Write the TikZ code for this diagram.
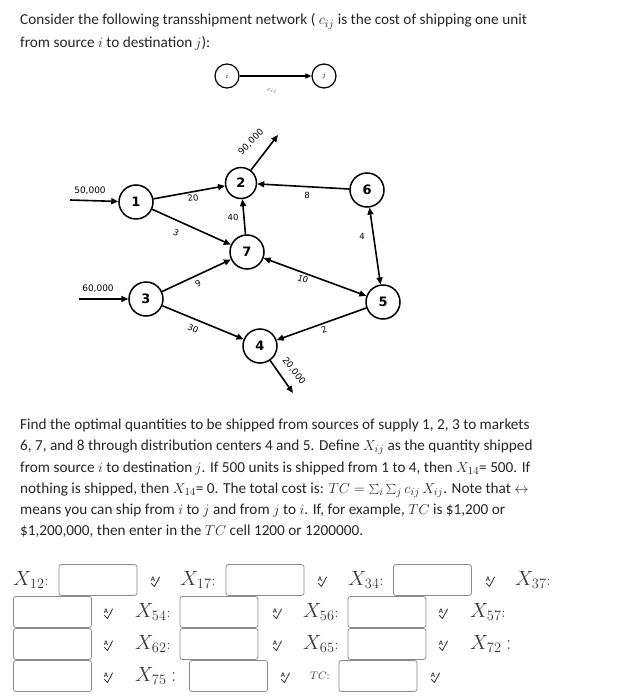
\documentclass[tikz,border=0pt]{standalone}
\usepackage{fontspec}
\setmainfont{Carlito}
\newfontfamily\netfont{DejaVu Sans}
\usetikzlibrary{arrows.meta}
\tikzset{
  txt/.style={anchor=base west, inner sep=0, text=black!85, font=\fontsize{15.3}{18}\selectfont},
  nd/.style={circle, draw, line width=1.5bp, minimum size=34bp, inner sep=0, font=\netfont\bfseries\fontsize{13}{13}\selectfont},
  lg/.style={circle, draw, line width=1.2bp, minimum size=24bp, inner sep=0, font=\fontsize{7}{7}\selectfont},
  edge/.style={line width=1.6bp, -{Triangle[length=7bp,width=6bp]}},
  both/.style={line width=1.6bp, {Triangle[length=7bp,width=6bp]}-{Triangle[length=7bp,width=6bp]}},
  el/.style={inner sep=0, font=\netfont\fontsize{8.5}{8.5}\selectfont},
  ql/.style={inner sep=0, font=\netfont\fontsize{9}{9}\selectfont},
  box/.style={draw=black!45, rounded corners=2.5bp, line width=0.8bp, minimum width=78bp, minimum height=31bp, inner sep=0, fill=white},
  xl/.style={anchor=west, inner sep=0, text=black!78, font=\fontsize{20}{20}\selectfont},
  chkicon/.pic={
    \node[inner sep=0, text=black!75, font=\sffamily\bfseries\fontsize{6.5}{6.5}\selectfont] at (-2,-2) {A};
    \draw[black!75, line width=0.9bp, line cap=round, line join=round] (-3.5,2.5) -- (-0.5,5.5) -- (4.5,-4);
  }
}
\begin{document}
\begin{tikzpicture}[x=1bp,y=-1bp]
\useasboundingbox (0,0) rectangle (627,700);

% heading
\node[txt] (h1) at (20,25) {Consider the following transshipment network ( $c_{ij}$ is the cost of shipping one unit};
\node[txt] (h2) at (20,48) {from source $i$ to destination\,$j$):};

% legend
\node[lg] (li) at (227,76) {$i$};
\node[lg] (lj) at (324,76) {$j$};
\draw[line width=1.3bp, -{Triangle[length=6bp,width=5bp]}] (li) -- (lj);
\node[inner sep=0, text=black!70, font=\fontsize{7}{7}\selectfont] (lc) at (272,91) {$c_{ij}$};

% network nodes
\node[nd] (n1) at (136,202) {1};
\node[nd, minimum size=31bp] (n2) at (241,183) {2};
\node[nd] (n6) at (367,190) {6};
\node[nd] (n7) at (247,252) {7};
\node[nd] (n3) at (146,299) {3};
\node[nd] (n5) at (383,302) {5};
\node[nd] (n4) at (260,346) {4};

\coordinate (in1) at (70,200);
\coordinate (in3) at (79,299);
\coordinate (out2) at (278,135);
\coordinate (out4) at (293,393);

\draw[edge] (in1) -- (n1);
\draw[edge] (in3) -- (n3);
\draw[edge] (n2) -- (out2);
\draw[edge] (n4) -- (out4);
\node[ql] (q1) at (90,191) {50,000};
\node[ql] (q3) at (98,289) {60,000};
\node[ql, rotate=45] (q2) at (251,142) {90,000};
\node[ql, rotate=-52] (q4) at (294,371) {20,000};

\draw[edge] (n1) -- (n2);
\draw[edge] (n1) -- (n7);
\draw[edge] (n6) -- (n2);
\draw[edge] (n7) -- (n2);
\draw[both] (n6) -- (n5);
\draw[both] (n7) -- (n5);
\draw[edge] (n3) -- (n7);
\draw[edge] (n3) -- (n4);
\draw[edge] (n5) -- (n4);

\node[el, rotate=10] (c12) at (193,198) {20};
\node[el, rotate=-24] (c17) at (176,233) {3};
\node[el] (c62) at (307,195) {8};
\node[el] (c72) at (233,217) {40};
\node[el] (c65) at (362,236) {4};
\node[el, rotate=-20] (c75) at (303,279) {10};
\node[el, rotate=25] (c37) at (198,284) {9};
\node[el, rotate=-22] (c34) at (193,329) {30};
\node[el, rotate=20] (c54) at (324,330) {2};

% paragraph
\node[txt] (p1) at (20,429) {Find the optimal quantities to be shipped from sources of supply 1, 2, 3 to markets};
\node[txt] (p2) at (20,450) {6, 7, and 8 through distribution centers 4 and 5. Define $X_{ij}$ as the quantity shipped};
\node[txt] (p3) at (20,472) {from source $i$ to destination\,$j$. If 500 units is shipped from 1 to 4, then $X_{14}$= 500. If};
\node[txt] (p4) at (20,493) {nothing is shipped, then $X_{14}$= 0. The total cost is: $TC = \sum_i \sum_j c_{ij}\, X_{ij}$. Note that $\leftrightarrow$};
\node[txt] (p5) at (20,514) {means you can ship from $i$ to $j$ and from $j$ to $i$. If, for example, $TC$ is \$1,200 or};
\node[txt] (p6) at (20,535) {\$1,200,000, then enter in the $TC$ cell 1200 or 1200000.};

% form row 1
\node[xl] (x12) at (13,580) {$X_{12}{\scriptstyle :}$};
\node[box] (b12) at (98,580) {};
\pic at (155,581) {chkicon};
\node[xl] (x17) at (180,580) {$X_{17}{\scriptstyle :}$};
\node[box] (b17) at (265,580) {};
\pic at (322,581) {chkicon};
\node[xl] (x34) at (348,580) {$X_{34}{\scriptstyle :}$};
\node[box] (b34) at (432.5,580) {};
\pic at (490,581) {chkicon};
\node[xl] (x37) at (515,580) {$X_{37}{\scriptstyle :}$};
% row 2
\node[box] (b37) at (52.5,612) {};
\pic at (108,613) {chkicon};
\node[xl] (x54) at (135,612) {$X_{54}{\scriptstyle :}$};
\node[box] (b54) at (219,612) {};
\pic at (277,613) {chkicon};
\node[xl] (x56) at (303,612) {$X_{56}{\scriptstyle :}$};
\node[box] (b56) at (387,612) {};
\pic at (443,613) {chkicon};
\node[xl] (x57) at (470,612) {$X_{57}{\scriptstyle :}$};
% row 3
\node[box] (b57) at (52.5,644) {};
\pic at (108,645) {chkicon};
\node[xl] (x62) at (135,644) {$X_{62}{\scriptstyle :}$};
\node[box] (b62) at (219,644) {};
\pic at (277,645) {chkicon};
\node[xl] (x65) at (303,644) {$X_{65}{\scriptstyle :}$};
\node[box] (b65) at (387,644) {};
\pic at (443,645) {chkicon};
\node[xl] (x72) at (470,644) {$X_{72}\ \mathord{:}$};
% row 4
\node[box] (b72) at (52.5,676) {};
\pic at (108,677) {chkicon};
\node[xl] (x75) at (135,676) {$X_{75}\ \mathord{:}$};
\node[box] (b75) at (228.5,676) {};
\pic at (285,677) {chkicon};
\node[xl, font=\fontsize{11}{11}\selectfont] (xtc) at (310,676) {$TC{:}$};
\node[box] (btc) at (378,676) {};
\pic at (435,677) {chkicon};
\end{tikzpicture}
\end{document}
